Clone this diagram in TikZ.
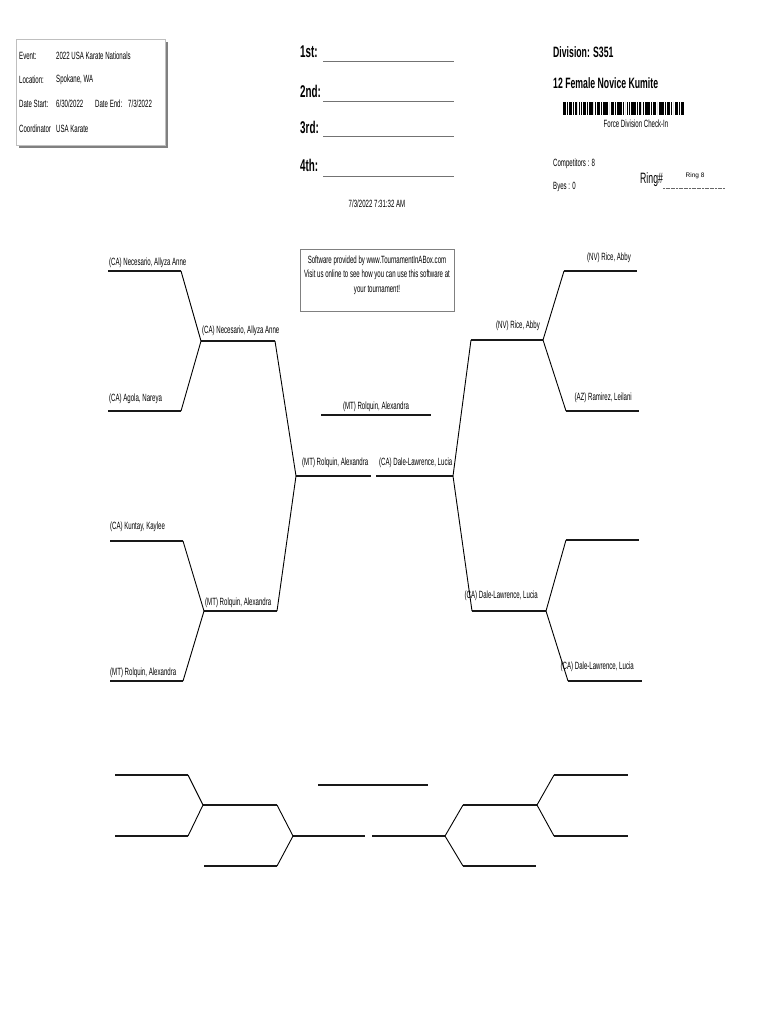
\documentclass[tikz,border=0pt]{standalone}
\usepackage{fontspec}
\setmainfont[FakeStretch=0.58]{Liberation Sans}
\newfontfamily\widefont{Liberation Sans}
\newcommand\bline[4]{%
  \coordinate (#1-l) at (#2,#4);
  \coordinate (#1-r) at (#3,#4);
  \draw[hl] (#1-l) -- (#1-r);}
\begin{document}
\begin{tikzpicture}[x=1pt,y=-1pt,
  hl/.style={line width=1.6pt,black!90},
  sl/.style={line width=0.9pt,black},
  plc/.style={line width=0.8pt,black!55},
  txt/.style={inner sep=0pt,font=\fontsize{10.5}{12}\selectfont},
  lbl/.style={txt},
  big/.style={inner sep=0pt,font=\fontsize{17}{19}\selectfont\bfseries},
  mid/.style={inner sep=0pt,font=\fontsize{15}{17}\selectfont\bfseries}]
\useasboundingbox (0,0) rectangle (770,1024);
\fill[white] (0,0) rectangle (770,1024);

% ---- info box ----
\fill[black!50] (165,42) rectangle (168,148);
\fill[black!50] (19,145) rectangle (168,148);
\draw[black!25,line width=0.5pt] (16,39) rectangle (165,145);
\node[txt,anchor=west] (ev) at (19,56) {Event:};
\node[txt,anchor=west] (evv) at (56,56) {2022 USA Karate Nationals};
\node[txt,anchor=west] (loc) at (19,80) {Location:};
\node[txt,anchor=west] (locv) at (56,80) {Spokane, WA};
\node[txt,anchor=west] (ds) at (19,104) {Date Start:};
\node[txt,anchor=west] (dsv) at (56,104) {6/30/2022};
\node[txt,anchor=west] (de) at (95,104) {Date End:};
\node[txt,anchor=west] (dev) at (128,104) {7/3/2022};
\node[txt,anchor=west] (co) at (19,129) {Coordinator};
\node[txt,anchor=west] (cov) at (56,129) {USA Karate};

% ---- placements ----
\node[big,anchor=west] (p1) at (300,52) {1st:};
\node[big,anchor=west] (p2) at (300,91) {2nd:};
\node[big,anchor=west] (p3) at (300,127) {3rd:};
\node[big,anchor=west] (p4) at (300,165) {4th:};
\coordinate (p1a) at (323,61); \coordinate (p1b) at (454,61);
\coordinate (p2a) at (323,101); \coordinate (p2b) at (454,101);
\coordinate (p3a) at (323,136); \coordinate (p3b) at (454,136);
\coordinate (p4a) at (323,176); \coordinate (p4b) at (454,176);
\draw[plc] (p1a) -- (p1b);
\draw[plc] (p2a) -- (p2b);
\draw[plc] (p3a) -- (p3b);
\draw[plc] (p4a) -- (p4b);
\node[txt] (stamp) at (377,204) {7/3/2022 7:31:32 AM};

% ---- division ----
\node[mid,anchor=west] (div) at (553,52) {Division: S351};
\node[mid,anchor=west] (dname) at (553,83) {12 Female Novice Kumite};
\foreach \i in {0,...,60}{
  \pgfmathsetmacro\w{mod(\i,8)==7 ? 0 : (mod(\i*5,7)<3 ? 1.5 : 0.8)}
  \fill[black] (563+\i*2,102) rectangle ++(\w,13);
}
\node[txt] (force) at (636,124) {Force Division Check-In};
\node[txt,anchor=west] (comp) at (553,164) {Competitors : 8};
\node[txt,anchor=west] (byes) at (553,187) {Byes : 0};
\node[inner sep=0pt,anchor=west,font=\fontsize{15}{17}\selectfont] (ring) at (640,180) {Ring\#};
\coordinate (rla) at (663,188); \coordinate (rlb) at (725,188);
\draw[black!60,line width=0.7pt,dash pattern=on 2pt off 0.6pt] (rla) -- (rlb);
\node[inner sep=0pt,font=\widefont\fontsize{6.5}{7}\selectfont] (ringv) at (695,176) {Ring 8};

% ---- software box ----
\draw[black!50,line width=0.5pt] (300,249) rectangle (454,311);
\node[txt,align=center,font=\fontsize{10.5}{14.5}\selectfont] (soft) at (377,275) {Software provided by www.TournamentInABox.com\\Visit us online to see how you can use this software at\\your tournament!};

% ---- main bracket: left ----
\bline{a1}{108}{181}{271}
\bline{a2}{108}{181}{411}
\bline{a3}{110}{183}{541}
\bline{a4}{110}{183}{681}
\bline{b1}{201}{275}{341}
\bline{b2}{204}{277}{611}
\bline{c1}{296}{371}{476}
\bline{fin}{321}{431}{415}
% ---- main bracket: right ----
\bline{c2}{376}{453}{476}
\bline{b3}{471}{543}{340}
\bline{b4}{472}{546}{611}
\bline{a5}{564}{637}{271}
\bline{a6}{566}{639}{411}
\bline{a7}{566}{639}{540}
\bline{a8}{568}{642}{681}

\draw[sl] (a1-r) -- (b1-l) -- (a2-r);
\draw[sl] (a3-r) -- (b2-l) -- (a4-r);
\draw[sl] (b1-r) -- (c1-l) -- (b2-r);
\draw[sl] (b3-l) -- (c2-r) -- (b4-l);
\draw[sl] (a5-l) -- (b3-r) -- (a6-l);
\draw[sl] (a7-l) -- (b4-r) -- (a8-l);

\node[lbl,anchor=base west] (t1) at (109,265) {(CA) Necesario, Allyza Anne};
\node[lbl,anchor=base west] (t2) at (109,401) {(CA) Agola, Nareya};
\node[lbl,anchor=base west] (t3) at (110,529) {(CA) Kuntay, Kaylee};
\node[lbl,anchor=base west] (t4) at (110,675) {(MT) Rolquin, Alexandra};
\node[lbl,anchor=base west] (t5) at (202,333) {(CA) Necesario, Allyza Anne};
\node[lbl,anchor=base west] (t6) at (205,605) {(MT) Rolquin, Alexandra};
\node[lbl,anchor=base west] (t7) at (302,465) {(MT) Rolquin, Alexandra};
\node[lbl,anchor=base] (t8) at (376,409) {(MT) Rolquin, Alexandra};
\node[lbl,anchor=base west] (t9) at (379,465) {(CA) Dale-Lawrence, Lucia};
\node[lbl,anchor=base east] (t10) at (540,328) {(NV) Rice, Abby};
\node[lbl,anchor=base east] (t11) at (631,260) {(NV) Rice, Abby};
\node[lbl,anchor=base east] (t12) at (632,400) {(AZ) Ramirez, Leilani};
\node[lbl,anchor=base east] (t13) at (538,598) {(CA) Dale-Lawrence, Lucia};
\node[lbl,anchor=base east] (t14) at (634,669) {(CA) Dale-Lawrence, Lucia};

% ---- consolation bracket ----
\bline{ca}{115}{188}{775}
\bline{cb}{115}{188}{836}
\bline{cc}{203}{277}{805}
\bline{cd}{293}{365}{836}
\bline{ce}{204}{277}{866}
\bline{cm}{318}{428}{785}
\bline{cf}{372}{445}{836}
\bline{cg}{463}{537}{805}
\bline{ch}{463}{536}{866}
\bline{ci}{554}{628}{775}
\bline{cj}{554}{628}{836}
\draw[sl] (ca-r) -- (cc-l) -- (cb-r);
\draw[sl] (cc-r) -- (cd-l) -- (ce-r);
\draw[sl] (cg-l) -- (cf-r) -- (ch-l);
\draw[sl] (ci-l) -- (cg-r) -- (cj-l);
\end{tikzpicture}
\end{document}
